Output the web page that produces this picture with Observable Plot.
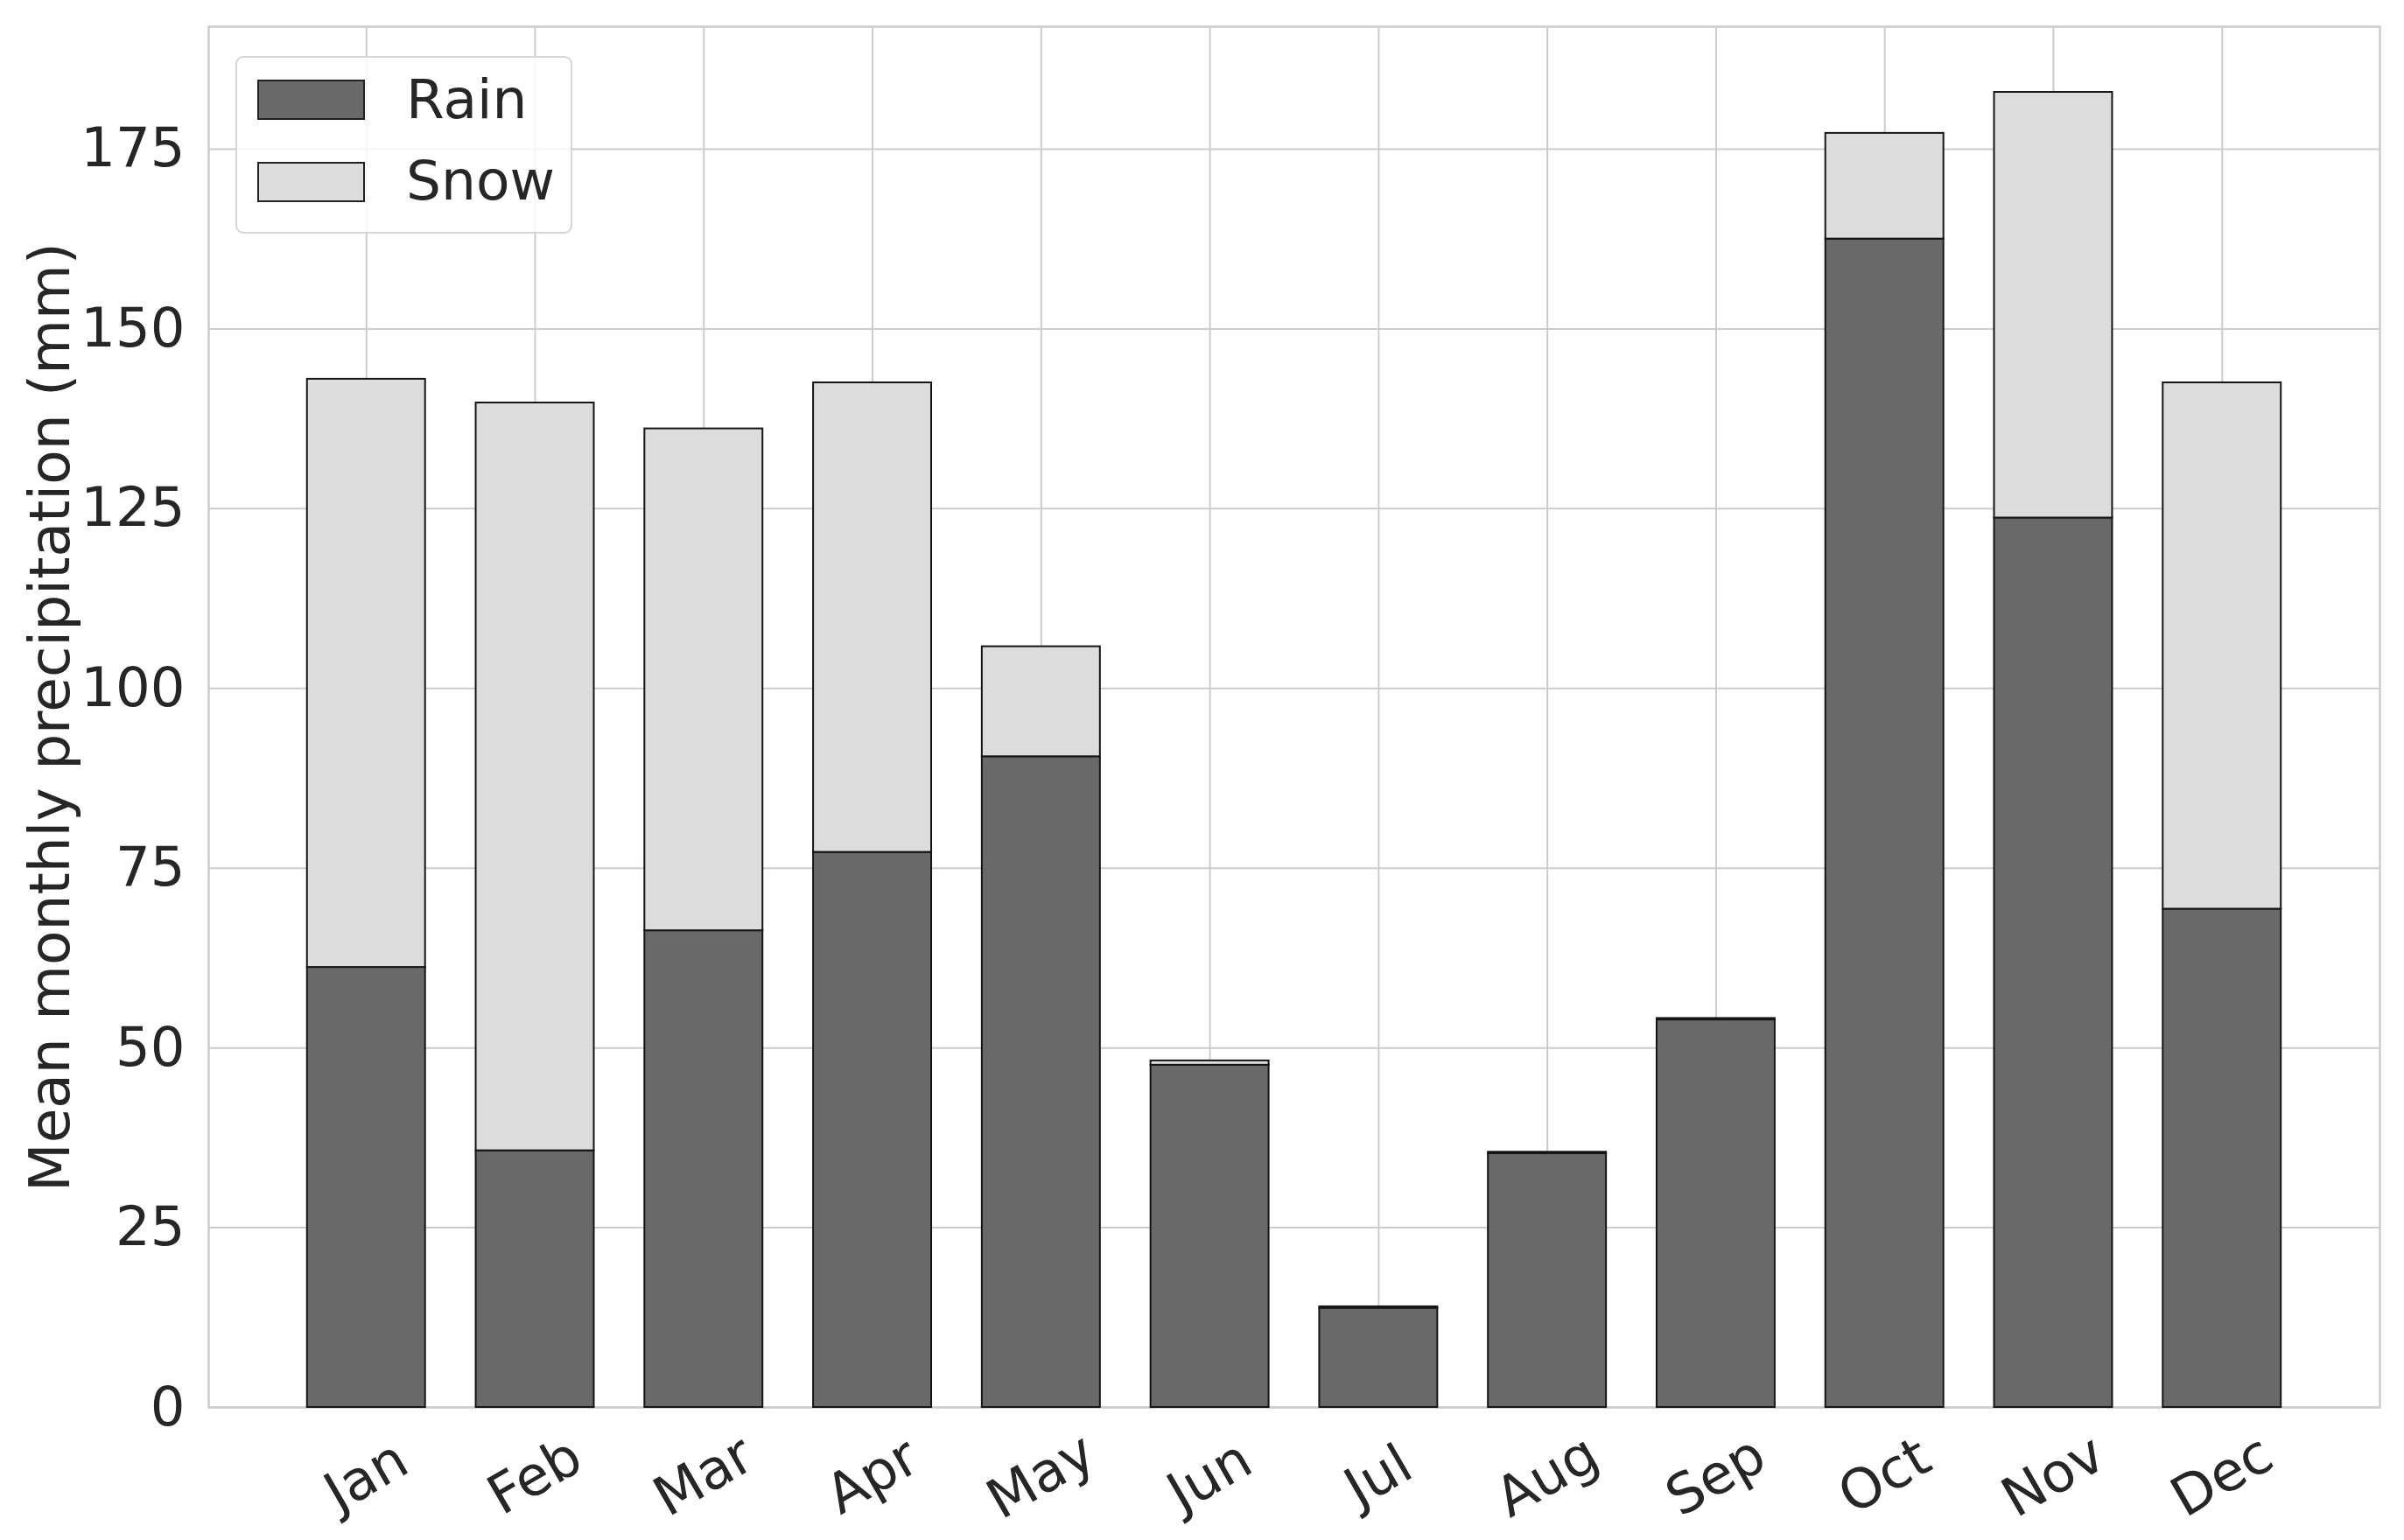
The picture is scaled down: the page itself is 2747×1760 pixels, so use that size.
<!DOCTYPE html>
<html><head><meta charset="utf-8">
<script src="https://cdn.jsdelivr.net/npm/d3@7"></script>
<script src="https://cdn.jsdelivr.net/npm/@observablehq/plot@0.6"></script>
<style>
body{margin:0;background:#fff;}
#wrap{position:relative;width:2747px;height:1760px;}
.legend{position:absolute;left:269px;top:64px;width:381px;height:199px;border:2px solid rgba(204,204,204,0.8);border-radius:9px;background:rgba(255,255,255,0.8);font-family:"DejaVu Sans";font-size:63px;color:#262626;}
.sw{position:absolute;left:23px;width:123px;height:46px;border:2px solid #222;box-sizing:border-box;}
.lt{position:absolute;left:193px;line-height:70px;white-space:nowrap;}
</style></head>
<body>
<div id="wrap"></div>
<script>
const months = ["Jan","Feb","Mar","Apr","May","Jun","Jul","Aug","Sep","Oct","Nov","Dec"];
const rain = [61.2, 35.7, 66.3, 77.2, 90.5, 47.6, 13.8, 35.3, 53.9, 162.5, 123.7, 69.3];
const snow = [81.8, 104.0, 69.8, 65.3, 15.3, 0.6, 0.2, 0.2, 0.2, 14.7, 59.2, 73.2];
const seriesNames = ["Rain", "Snow"];
const seriesColors = ["#696969", "#dcdcdc"];
const yTicks = [0, 25, 50, 75, 100, 125, 150, 175];
const yLabel = "Mean monthly precipitation (mm)";

const table = months.flatMap((m, i) => [
  {month: m, type: seriesNames[0], value: rain[i]},
  {month: m, type: seriesNames[1], value: snow[i]}
]);

const chart = Plot.plot({
  width: 2747, height: 1760,
  marginTop: 30, marginBottom: 152, marginLeft: 238, marginRight: 28,
  style: {fontFamily: "DejaVu Sans", fontSize: "62.5px", color: "#262626", background: "#fff", overflow: "visible"},
  x: {domain: months, paddingInner: 0.3, paddingOuter: 0.585, round: false, label: null},
  y: {domain: [0, 192.03], label: null},
  color: {domain: seriesNames, range: seriesColors},
  marks: [
    Plot.gridX({stroke: "#cccccc", strokeOpacity: 1, strokeWidth: 2}),
    Plot.gridY(yTicks, {stroke: "#cccccc", strokeOpacity: 1, strokeWidth: 2}),
    Plot.frame({stroke: "#cccccc", strokeWidth: 2.5}),
    Plot.barY(table, {x: "month", y: "value", fill: "type", stroke: "#151515", strokeWidth: 2}),
    Plot.axisY(yTicks, {tickSize: 0, tickPadding: 27, label: null}),
    Plot.axisX({tickSize: 0, tickRotate: -30, textAnchor: "middle", lineAnchor: "middle", tickPadding: 79, label: null}),
    Plot.text([yLabel], {text: d => d, frameAnchor: "left", rotate: -90, dx: -180, textAnchor: "middle", lineAnchor: "middle", fontSize: 64.5})
  ]
});
const wrap = document.getElementById("wrap");
wrap.appendChild(chart);

const lg = document.createElement("div");
lg.className = "legend";
const tops = [{sw: 25, t: 12.6}, {sw: 119, t: 106}];
seriesNames.forEach((n, i) => {
  const sw = document.createElement("div");
  sw.className = "sw";
  sw.style.top = tops[i].sw + "px";
  sw.style.background = seriesColors[i];
  lg.appendChild(sw);
  const t = document.createElement("div");
  t.className = "lt";
  t.style.top = tops[i].t + "px";
  t.textContent = n;
  lg.appendChild(t);
});
wrap.appendChild(lg);
</script>
</body></html>
